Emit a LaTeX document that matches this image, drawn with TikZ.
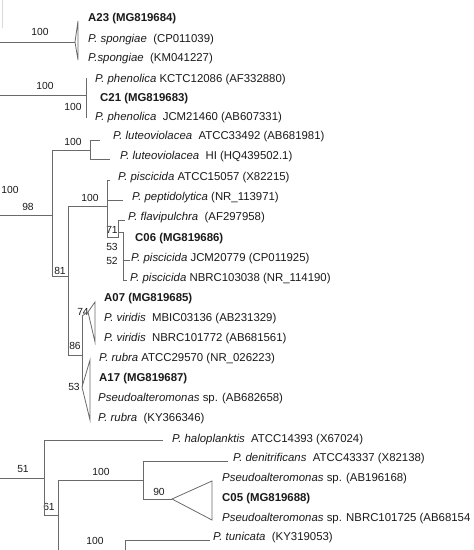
\documentclass[tikz,border=0pt]{standalone}
\usepackage{fontspec}
\setmainfont{Liberation Sans}
\definecolor{linegray}{HTML}{6A6A6A}
\definecolor{textcol}{HTML}{1A1A1A}
\begin{document}
\begin{tikzpicture}[x=1pt,y=-1pt,
  br/.style={draw=linegray,line width=0.8pt},
  tip/.style={anchor=west,inner sep=0pt,font=\fontsize{11.4}{13}\selectfont,text=textcol},
  bs/.style={inner sep=0pt,font=\fontsize{10.3}{12}\selectfont,text=textcol}]
\useasboundingbox (0,0) rectangle (474,550);
% faint frame edge at top left
\draw[draw=black!15,line width=0.6pt] (2,0) -- (2,28);
% ---------- tip labels ----------
\node[tip] (t1)  at (88,19)  {\textbf{A23 (MG819684)}};
\node[tip] (t2)  at (88,40)  {\textit{P. spongiae}\ \ (CP011039)};
\node[tip] (t3)  at (88,59)  {\textit{P.spongiae}\ \ (KM041227)};
\node[tip] (t4)  at (95,80)  {\textit{P. phenolica} KCTC12086 (AF332880)};
\node[tip] (t5)  at (100,99) {\textbf{C21 (MG819683)}};
\node[tip] (t6)  at (95,118) {\textit{P. phenolica}\ \ JCM21460 (AB607331)};
\node[tip] (t7)  at (113,137){\textit{P. luteoviolacea}\ \ ATCC33492 (AB681981)};
\node[tip] (t8)  at (120,157){\textit{P. luteoviolacea}\ \ HI (HQ439502.1)};
\node[tip] (t9)  at (118,178){\textit{P. piscicida} ATCC15057 (X82215)};
\node[tip] (t10) at (132,198){\textit{P. peptidolytica} (NR\_113971)};
\node[tip] (t11) at (128,218){\textit{P. flavipulchra}\ \ (AF297958)};
\node[tip] (t12) at (135,239){\textbf{C06 (MG819686)}};
\node[tip] (t13) at (131,259){\textit{P. piscicida} JCM20779 (CP011925)};
\node[tip] (t14) at (130,279){\textit{P. piscicida} NBRC103038 (NR\_114190)};
\node[tip] (t15) at (104,299){\textbf{A07 (MG819685)}};
\node[tip] (t16) at (104,319){\textit{P. viridis}\ \ MBIC03136 (AB231329)};
\node[tip] (t17) at (104,339){\textit{P. viridis}\ \ NBRC101772 (AB681561)};
\node[tip] (t18) at (99,359) {\textit{P. rubra} ATCC29570 (NR\_026223)};
\node[tip] (t19) at (99,379) {\textbf{A17 (MG819687)}};
\node[tip] (t20) at (98,399) {\textit{Pseudoalteromonas} sp. (AB682658)};
\node[tip] (t21) at (98,419) {\textit{P. rubra}\ \ (KY366346)};
\node[tip] (t22) at (172,440){\textit{P. haloplanktis}\ \ ATCC14393 (X67024)};
\node[tip] (t23) at (233,459){\textit{P. denitrificans}\ \ ATCC43337 (X82138)};
\node[tip] (t24) at (222,479){\textit{Pseudoalteromonas} sp. (AB196168)};
\node[tip] (t25) at (222,499){\textbf{C05 (MG819688)}};
\node[tip] (t26) at (222,519){\textit{Pseudoalteromonas} sp. NBRC101725 (AB68154};
\node[tip] (t27) at (213,538){\textit{P. tunicata}\ \ (KY319053)};
% ---------- bootstrap values ----------
\node[bs] (b1)  at (40,32)  {100};
\node[bs] (b2)  at (45,86)  {100};
\node[bs] (b3)  at (73,107) {100};
\node[bs] (b4)  at (73,142) {100};
\node[bs] (b5)  at (10,190) {100};
\node[bs] (b6)  at (28,207) {98};
\node[bs] (b7)  at (90,198) {100};
\node[bs] (b8)  at (112,230){71};
\node[bs] (b9)  at (112,247){53};
\node[bs] (b10) at (112,261){52};
\node[bs] (b11) at (60,271) {81};
\node[bs] (b12) at (83,312) {74};
\node[bs] (b13) at (75,346) {86};
\node[bs] (b14) at (74,387) {53};
\node[bs] (b15) at (23,469) {51};
\node[bs] (b16) at (49,507) {61};
\node[bs] (b17) at (101,472){100};
\node[bs] (b18) at (159,492){90};
\node[bs] (b19) at (95,541) {100};
% ---------- tree junctions ----------
\coordinate (r1) at (0,42);   \coordinate (n1) at (75,42);
\coordinate (n1a) at (78,21); \coordinate (n1b) at (78,60);
\coordinate (r2) at (0,95);   \coordinate (n2) at (86,95);
\coordinate (n2a) at (86,78); \coordinate (n2b) at (86,118);
\coordinate (r3) at (0,215);  \coordinate (n3) at (52,215);
\coordinate (n3a) at (52,150);\coordinate (n3b) at (52,276);
\coordinate (n4) at (90,150); \coordinate (n4a) at (90,140); \coordinate (n4b) at (90,159);
\coordinate (l7) at (100,140);\coordinate (l8) at (110,159);
\coordinate (n5) at (68,276); \coordinate (n5a) at (68,206); \coordinate (n5b) at (68,355);
\coordinate (n6) at (107,206);\coordinate (n6a) at (107,180);\coordinate (n6b) at (107,237);
\coordinate (l9) at (110,180);
\coordinate (n6p) at (107,200);\coordinate (l10) at (123,200);
\coordinate (n7) at (118,237); \coordinate (n7a) at (118,220);
\coordinate (l11) at (125,220);
\coordinate (n8) at (118,232); \coordinate (n8a) at (123,232); \coordinate (n8b) at (123,280);
\coordinate (l12) at (130,240); \coordinate (n9) at (123,260); \coordinate (l14) at (127,280);
\coordinate (n10) at (82,355); \coordinate (n10a) at (82,316); \coordinate (n10b) at (82,387);
\coordinate (n11) at (88,312); \coordinate (n11a) at (95,302); \coordinate (n11b) at (95,342);
\coordinate (n12a) at (90,360); \coordinate (n12b) at (90,420);
\coordinate (r4) at (0,478);  \coordinate (n13) at (44,478);
\coordinate (n13a) at (44,440); \coordinate (n13b) at (44,515);
\coordinate (l22) at (163,440);
\coordinate (n14) at (58,515); \coordinate (n14a) at (58,480); \coordinate (n14b) at (58,550);
\coordinate (n15) at (143,480); \coordinate (n15a) at (143,461); \coordinate (n15b) at (143,499);
\coordinate (l23) at (228,461);
\coordinate (n16) at (172,499); \coordinate (n16a) at (212,481); \coordinate (n16b) at (212,520);
\coordinate (n17) at (125,540); \coordinate (n17b) at (125,550); \coordinate (l27) at (210,540);
% ---------- branches ----------
\draw[br] (r1) -- (n1);
\draw[br] (n1) -- (n1a) -- (n1b) -- cycle;
\draw[br] (r2) -- (n2);
\draw[br] (n2a) -- (n2b);
\draw[br] (r3) -- (n3);
\draw[br] (n3a) -- (n3b);
\draw[br] (n3a) -- (n4);
\draw[br] (l7) -- (n4a) -- (n4b) -- (l8);
\draw[br] (n3b) -- (n5);
\draw[br] (n5a) -- (n5b);
\draw[br] (n5a) -- (n6);
\draw[br] (l9) -- (n6a) -- (n6b) -- (n7) -- (n7a) -- (l11);
\draw[br] (n6p) -- (l10);
\draw[br] (n8) -- (n8a) -- (n8b) -- (l14);
\draw[br] (n9) -- (l12 |- n9);
\draw[br] (n5b) -- (n10);
\draw[br] (n10a) -- (n10b);
\draw[br] (n10a) -- (n11);
\draw[br] (n11) -- (n11a) -- (n11b) -- cycle;
\draw[br] (n10b) -- (n12a) -- (n12b) -- cycle;
\draw[br] (r4) -- (n13);
\draw[br] (n13a) -- (n13b);
\draw[br] (n13a) -- (l22);
\draw[br] (n13b) -- (n14);
\draw[br] (n14a) -- (n14b);
\draw[br] (n14a) -- (n15);
\draw[br] (l23) -- (n15a) -- (n15b) -- (n16);
\draw[br] (n16) -- (n16a) -- (n16b) -- cycle;
\draw[br] (l27) -- (n17) -- (n17b);
\end{tikzpicture}
\end{document}
